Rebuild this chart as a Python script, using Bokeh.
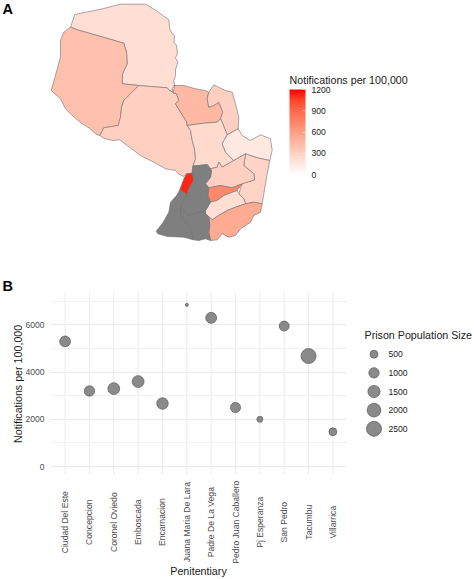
import math
from bokeh.plotting import figure
from bokeh.layouts import column, row
from bokeh.models import (ColumnDataSource, LinearColorMapper, ColorBar, FixedTicker, Label,
                          LabelSet, Range1d, FactorRange)
from bokeh.core.properties import value
from bokeh.embed import file_html
from bokeh.resources import INLINE

# ---- Map data (department outlines in map units, notifications per 100,000) ----
dept_names = ["Alto Paraguay", "Boqueron", "Presidente Hayes", "Concepcion", "Amambay", "San Pedro",
              "Canindeyu", "Alto Parana", "Caaguazu", "Guaira", "Caazapa", "Itapua", "Central",
              "Cordillera-Paraguari", "Neembucu", "Misiones"]
dept_rates = [215, 400, 300, 450, 300, 240, 150, 280, 300, 730, 215, 530, 1120,
              float("nan"), float("nan"), float("nan")]
alto_paraguay = [(74.3,14),(103.3,8),(120,3.7),(145.3,3.7),(156.7,10.7),(168.3,19.3),(169.3,28.3),(171.7,33.3),(174,35),(173.3,41.7),(176,45),(177,53.3),(175,57.3),(177.3,61.7),(175,69.3),(175,75),(173.3,80),(174,85),(171.7,88.3),(172.7,92.3),(168.3,89.3),(166.7,87.3),(150,86),(138.3,85),(121.7,83.3),(122,73.3),(126.7,63.3),(126,51.7),(123.3,42.7),(96.7,35),(76.7,29.3),(70,26.7)]
boqueron = [(70,26.7),(76.7,29.3),(96.7,35),(123.3,42.7),(126,51.7),(126.7,63.3),(122,73.3),(121.7,83.3),(138.3,85),(130,93.3),(123.3,100),(121,106.7),(120,116.7),(117.7,125),(103.3,127.3),(99.3,135),(95,133.3),(90,128.3),(81.7,123.3),(71.7,115),(65,108.3),(60,98.3),(50.7,90),(60,56.7),(60,40),(63.3,31.7)]
hayes = [(138.3,85),(150,86),(166.7,87.3),(168.3,89.3),(172.7,92.3),(176,93.3),(178.3,100),(175,103.3),(180,111.7),(186,121),(186.7,125),(190,130),(191.7,140),(194,148.3),(195,158.3),(192.5,165.5),(192,168),(191.7,172.7),(186,173.3),(183.5,176),(178,173.5),(175,170),(165,168.3),(153.3,161.7),(140,155),(126.7,145),(119.3,139.3),(111.7,140),(103.3,137.7),(99.3,135),(103.3,127.3),(117.7,125),(120,116.7),(121,106.7),(123.3,100),(130,93.3)]
concepcion = [(173.3,85),(183.3,85),(195,88.3),(205,90),(208.3,91.7),(206.7,98.3),(208.3,106.7),(213.3,105),(218.3,101.7),(222.3,111.7),(220,118.3),(216.7,121.7),(203.3,122.7),(186.7,125),(186,121),(180,111.7),(175,103.3),(178.3,100),(176,93.3),(172.7,92.3),(174,85)]
amambay = [(208.3,91.7),(213.3,84.3),(218,86.7),(225,90),(231.7,91.7),(235,103.3),(238.3,116.7),(237.7,128.3),(226.7,134.3),(222.3,123.3),(220,118.3),(222.3,111.7),(218.3,101.7),(213.3,105),(208.3,106.7),(206.7,98.3)]
san_pedro = [(186.7,125),(203.3,122.7),(216.7,121.7),(220,118.3),(222.3,123.3),(226.7,134.3),(221.7,143.3),(225,151.7),(233.3,160),(221.7,166.7),(218.3,161.7),(216.7,166.7),(210,168.3),(206.7,164),(198.3,165),(192.5,165.5),(195,158.3),(194,148.3),(191.7,140),(190,130)]
canindeyu = [(226.7,134.3),(237.7,128.3),(241.7,135),(250,140),(260,134.3),(270,138.3),(271.7,150),(269.3,160),(256.7,157.3),(245,153.3),(233.3,160),(225,151.7),(221.7,143.3)]
alto_parana = [(245,153.3),(256.7,157.3),(269.3,160),(266.7,173.3),(265,183.3),(261.7,203.3),(253.3,201.7),(245,203.3),(243.3,198.3),(238.3,193.3),(241.7,183.3),(254,179.3),(253.3,173.3),(243.3,165)]
caaguazu = [(245,153.3),(243.3,165),(253.3,173.3),(254,179.3),(241.7,183.3),(231.7,187.3),(220,185),(208.3,187.3),(205,183.3),(210,176.7),(211,170),(210,168.3),(216.7,166.7),(218.3,161.7),(221.7,166.7),(233.3,160)]
guaira = [(208.3,187.3),(220,185),(231.7,187.3),(241.7,183.3),(236.7,190),(223.3,195),(216.7,200),(210,201.7),(207.3,195)]
caazapa = [(210,201.7),(216.7,200),(223.3,195),(236.7,190),(238.3,193.3),(243.3,198.3),(245,203.3),(235,206.7),(226.7,210),(218.3,215),(211.7,219.3),(205,213.3),(205,210)]
itapua = [(211.7,219.3),(218.3,215),(226.7,210),(235,206.7),(245,203.3),(253.3,201.7),(261.7,203.3),(260,211.7),(253.3,215),(250,221.7),(240,228.3),(235,235),(228.3,236.7),(221.7,233.3),(216.7,239.3),(210,240),(208.3,231.7),(209.3,225),(208.3,216.7),(205,213.3)]
central = [(186,173.3),(191.7,172.7),(193.3,180),(188.3,188.3),(186.7,194.3),(179.3,189.3),(183.5,178)]
cordillera = [(191.7,172.7),(192,168),(192.5,165.5),(198.3,165),(206.7,164),(210,168.3),(211,170),(210,176.7),(205,183.3),(208.3,187.3),(207.3,195),(210,201.7),(205,210),(195,213.3),(186.7,215),(180.7,206.7),(183.3,198.3),(186.7,194.3),(188.3,188.3),(193.3,180)]
neembucu = [(186.7,194.3),(183.3,198.3),(180.7,206.7),(180.7,215),(186.7,223.3),(190.7,228.3),(192.7,239.3),(183.3,236.7),(166.7,236),(157.3,233.3),(155.7,230.7),(162.7,221.7),(168.3,211.7),(170,201.7),(176,195),(179.3,189.3)]
misiones = [(180.7,206.7),(186.7,215),(195,213.3),(205,210),(205,213.3),(208.3,216.7),(209.3,225),(208.3,231.7),(210,240),(205,238.3),(198.3,240),(192.7,239.3),(190.7,228.3),(186.7,223.3),(180.7,215)]
dept_outlines = [alto_paraguay, boqueron, hayes, concepcion, amambay, san_pedro, canindeyu, alto_parana,
                 caaguazu, guaira, caazapa, itapua, central, cordillera, neembucu, misiones]
colorbar_ticks = [0, 300, 600, 900, 1200]

# ---- Penitentiary data ----
penitentiaries = ["Ciudad Del Este", "Concepcion", "Coronel Oviedo", "Emboscada", "Encarnacion",
                  "Juana Maria De Lara", "Padre De La Vega", "Pedro Juan Caballero", "Pj Esperanza",
                  "San Pedro", "Tacumbu", "Villarrica"]
notifications = [5300, 3200, 3300, 3600, 2670, 6850, 6300, 2500, 2000, 5950, 4680, 1470]
population = [1100, 1000, 1400, 1400, 1300, 100, 1150, 950, 250, 900, 2500, 500]
legend_population = [500, 1000, 1500, 2000, 2500]
y_ticks = [0, 2000, 4000, 6000]
y_minor = [1000, 3000, 5000, 7000]

FONT = "Liberation Sans"
GRAY_TXT = "#4d4d4d"
DARK_TXT = "#1a1a1a"
TITLE_SIZE = "10.7px"
TICK_SIZE = "8.6px"
MAP_H = 276
LOWER_H = 303
Y_BOTTOM, Y_TOP = -4788, 8051

def diameter(pop):
    return 3 + 12 * math.sqrt(max(pop - 100, 0) / 2400)

# White-to-red gradient
stops = ["#FFFFFF", "#FFE8E0", "#FFD0C1", "#FFB8A3", "#FF9F85", "#FF8568", "#FF694B", "#FF472D", "#FF0000"]
def _rgb(h):
    return [int(h[i:i + 2], 16) for i in (1, 3, 5)]
palette = []
for i in range(256):
    t = i / 255 * (len(stops) - 1)
    k = min(int(t), len(stops) - 2)
    a, b = _rgb(stops[k]), _rgb(stops[k + 1])
    f = t - k
    palette.append("#%02x%02x%02x" % tuple(round(a[j] + (b[j] - a[j]) * f) for j in range(3)))
mapper = LinearColorMapper(palette=palette, low=0, high=1200, nan_color="#7f7f7f")

def bare(fig):
    fig.axis.visible = False
    fig.grid.visible = False

# ---- Panel A ----
p_map = figure(width=474, height=MAP_H, x_range=Range1d(0, 474), y_range=Range1d(MAP_H, 0),
               output_backend="svg", toolbar_location=None, outline_line_color=None, min_border=0)
bare(p_map)
map_src = ColumnDataSource(dict(
    xs=[[pt[0] for pt in o] for o in dept_outlines],
    ys=[[pt[1] for pt in o] for o in dept_outlines],
    rate=dept_rates, name=dept_names))
p_map.patches("xs", "ys", source=map_src, fill_color={"field": "rate", "transform": mapper},
              line_color="#6e6e6e", line_width=0.6)
cb = ColorBar(color_mapper=mapper, width=16, height=85, location=(289, MAP_H - 174), padding=0, margin=0,
              ticker=FixedTicker(ticks=colorbar_ticks),
              major_label_text_font=FONT, major_label_text_font_size=TICK_SIZE, major_label_text_color=DARK_TXT,
              major_tick_line_color="white", major_tick_line_width=0.5, major_tick_in=3,
              minor_tick_line_color=None, bar_line_color=None, background_fill_color=None,
              border_line_color=None, label_standoff=6)
p_map.add_layout(cb)
p_map.add_layout(Label(x=289, y=79, text="Notifications per 100,000", text_font=FONT,
                       text_font_size=TITLE_SIZE, text_color=DARK_TXT, text_baseline="middle"))
p_map.add_layout(Label(x=2, y=8, text="A", text_font=FONT, text_baseline="middle",
                       text_font_size="14.5px", text_font_style="bold", text_color="black"))

# ---- Panel B: left gutter with the y axis texts ----
shared_y = Range1d(Y_BOTTOM, Y_TOP)
gut = figure(width=50, height=LOWER_H, x_range=Range1d(0, 50), y_range=shared_y, output_backend="svg",
             toolbar_location=None, outline_line_color=None, min_border=0)
bare(gut)
gut_src = ColumnDataSource(dict(x=[44] * 4, y=y_ticks, t=[str(v) for v in y_ticks]))
gut.add_layout(LabelSet(x="x", y="y", text="t", source=gut_src, text_align="right", text_baseline="middle",
                        text_font=value(FONT), text_font_size=value(TICK_SIZE), text_color=value(GRAY_TXT)))
gut.add_layout(Label(x=17, y=3500, text="Notifications per 100,000", angle=math.pi / 2, text_font=FONT,
                     text_font_size=TITLE_SIZE, text_color=DARK_TXT, text_align="center", text_baseline="middle"))
gut.add_layout(Label(x=2, y=7650, text="B", text_font=FONT, text_baseline="middle",
                     text_font_size="14.5px", text_font_style="bold", text_color="black"))

# ---- Panel B: points ----
p = figure(width=297, height=LOWER_H, x_range=FactorRange(factors=penitentiaries, range_padding=0.1,
                                                         range_padding_units="absolute"),
           y_range=shared_y, output_backend="svg", toolbar_location=None,
           outline_line_color=None, min_border=0)
p.axis.visible = False
p.xgrid.visible = False
p.ygrid.ticker = FixedTicker(ticks=y_ticks, minor_ticks=y_minor)
p.ygrid.grid_line_color = "#ebebeb"
p.ygrid.minor_grid_line_color = "#f3f3f3"
p.segment(penitentiaries, [-339] * 12, penitentiaries, [7373] * 12, line_color="#ebebeb", line_width=1, level="underlay")
pts = ColumnDataSource(dict(x=penitentiaries, y=notifications, size=[diameter(v) for v in population]))
p.scatter("x", "y", size="size", source=pts, fill_color="#8a8a8a", line_color="#595959", line_width=0.7)
tick_src = ColumnDataSource(dict(x=penitentiaries, y=[-2360] * len(penitentiaries), t=penitentiaries))
p.add_layout(LabelSet(x="x", y="y", text="t", source=tick_src, angle=math.pi / 2, text_align="center",
                      text_baseline="middle", text_font=value(FONT), text_font_size=value(TICK_SIZE),
                      text_color=value(GRAY_TXT)))
p.add_layout(Label(x=148, y=-4407, x_units="screen", text="Penitentiary", text_font=FONT, text_font_size=TITLE_SIZE,
                   text_color=DARK_TXT, text_align="center", text_baseline="middle"))

# ---- Size legend ----
leg = figure(width=127, height=LOWER_H, x_range=Range1d(0, 127), y_range=Range1d(6540, -1583),
             output_backend="svg", toolbar_location=None, outline_line_color=None, min_border=0)
bare(leg)
leg_src = ColumnDataSource(dict(x=[26.5] * 5, lx=[41] * 5, y=legend_population,
                                size=[diameter(v) for v in legend_population], t=[str(v) for v in legend_population]))
leg.scatter("x", "y", size="size", source=leg_src, fill_color="#8a8a8a", line_color="#595959", line_width=0.7)
leg.add_layout(LabelSet(x="lx", y="y", text="t", source=leg_src, text_align="left", text_baseline="middle",
                        text_font=value(FONT), text_font_size=value(TICK_SIZE), text_color=value(DARK_TXT)))
leg.add_layout(Label(x=17, y=-28, text="Prison Population Size", text_font=FONT,
                     text_font_size=TITLE_SIZE, text_color=DARK_TXT, text_baseline="middle"))

out = column(p_map, row(gut, p, leg, spacing=0), spacing=0)
open("out.html", "w").write(file_html(out, INLINE))
